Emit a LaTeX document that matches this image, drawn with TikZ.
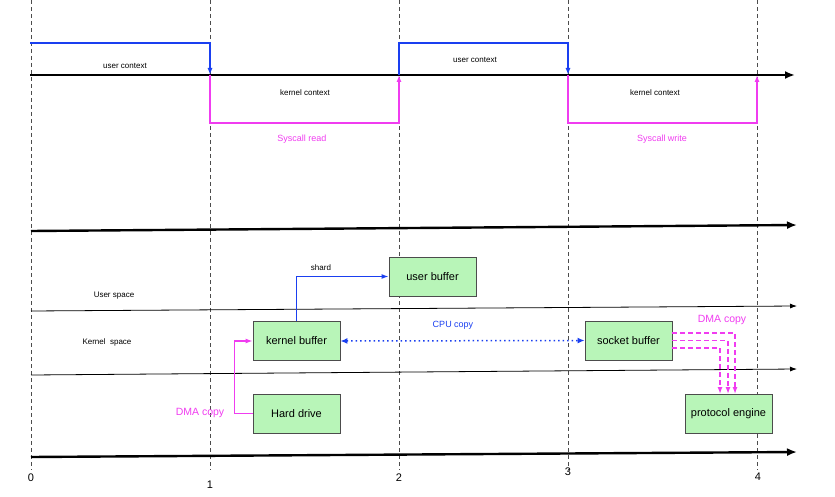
\documentclass[tikz,border=0pt]{standalone}
\usepackage{fontspec}
\setmainfont{Liberation Sans}
\usetikzlibrary{arrows.meta}
\definecolor{boxgreen}{HTML}{B8F5B8}
\definecolor{ublue}{HTML}{1A3FF0}
\definecolor{kmag}{HTML}{F03CF0}
\begin{document}
\begin{tikzpicture}[x=1pt,y=-1pt,
  guide/.style={dash pattern=on 4pt off 3pt,gray!60!black,line width=0.8pt},
  axis/.style={line width=2.4pt,-{Latex[length=10pt,width=8pt]}},
  thinaxis/.style={line width=0.8pt,-{Latex[length=7pt,width=5pt]}},
  bufbox/.style={draw=black!70,line width=0.8pt,fill=boxgreen,minimum width=87pt,minimum height=39pt,font=\fontsize{11}{13}\selectfont},
  small/.style={font=\fontsize{8}{9}\selectfont},
  userpath/.style={ublue,line width=1.3pt,-{Latex[length=7pt,width=5pt]}},
  kernpath/.style={kmag,line width=1.3pt,-{Latex[length=7pt,width=5pt]}},
  dmaline/.style={kmag,line width=1.3pt,dash pattern=on 5pt off 3pt,-{Latex[length=7pt,width=5pt]}},
  tick/.style={font=\fontsize{11}{13}\selectfont}]
\useasboundingbox (0,0) rectangle (835,497);

% time marks
\foreach \n/\x in {0/31,1/210,2/399,3/568,4/757}{
  \coordinate (t\n) at (\x,0);
  \draw[guide] (\x,0) -- (\x,470);
}
\node[tick] (n0) at (31,478) {0};
\node[tick] (n1) at (210,485) {1};
\node[tick] (n2) at (399,478) {2};
\node[tick] (n3) at (568,472) {3};
\node[tick] (n4) at (758,477) {4};

% context switch timeline
\coordinate (a0) at (30,75);
\coordinate (a1) at (795,75);
\draw[axis] (a0) -- (a1);

\coordinate (u0) at (30,43);
\coordinate (s1) at (210,75);
\coordinate (s2) at (399,75);
\coordinate (s3) at (568,75);
\coordinate (s4) at (757,75);
\draw[userpath] (u0) -| (s1);
\draw[kernpath] (s1) -- (210,123) -- (399,123) -- (s2);
\draw[userpath] (s2) -- (399,43) -- (568,43) -- (s3);
\draw[kernpath] (s3) -- (568,123) -- (757,123) -- (s4);

\node[small] (uc1) at (125,66) {user context};
\node[small] (uc2) at (475,60) {user context};
\node[small] (kc1) at (305,93) {kernel context};
\node[small] (kc2) at (655,93) {kernel context};
\node[kmag,font=\fontsize{9}{11}\selectfont] (sr) at (302,139) {Syscall read};
\node[kmag,font=\fontsize{9}{11}\selectfont] (sw) at (662,139) {Syscall write};

% second timeline
\coordinate (b0) at (31,231);
\coordinate (b1) at (797,225);
\draw[axis] (b0) -- (b1);

% space boundaries
\coordinate (l0) at (31,311);
\coordinate (l1) at (797,306);
\draw[thinaxis] (l0) -- (l1);
\coordinate (m0) at (31,375);
\coordinate (m1) at (797,369);
\draw[thinaxis] (m0) -- (m1);
\coordinate (c0) at (31,457);
\coordinate (c1) at (797,452);
\draw[axis] (c0) -- (c1);

\node[small] (us) at (114,296) {User space};
\node[small] (ks) at (107,342) {Kernel\ \ space};

% buffers
\node[bufbox] (kb) at (296.5,341) {kernel buffer};
\node[bufbox] (hd) at (296.5,413.5) {Hard drive};
\node[bufbox] (ub) at (432.5,276.5) {user buffer};
\node[bufbox] (sb) at (628.5,340.5) {socket buffer};
\node[bufbox] (pe) at (728.5,413.5) {protocol engine};

% data movement
\draw[userpath] (kb.north) |- (ub.west);
\node[small] (shard) at (321,268) {shard};

\draw[ublue,line width=1.5pt,dash pattern=on 1.5pt off 3pt,{Latex[length=7pt,width=6pt]}-{Latex[length=7pt,width=6pt]}] (kb.east) -- (sb.west);
\node[ublue,font=\fontsize{9}{11}\selectfont] (cpu) at (453,325) {CPU copy};

\draw[kernpath] (hd.west) -- ++(-18,0) |- (kb.west);
\node[kmag,font=\fontsize{10.5}{12}\selectfont] (dma1) at (200,413) {DMA copy};

\coordinate (pe1) at (735,394);
\coordinate (pe2) at (728,394);
\coordinate (pe3) at (720,394);
\draw[dmaline] ([yshift=7.5pt]sb.east) -| (pe1);
\draw[dmaline] (sb.east) -| (pe2);
\draw[dmaline] ([yshift=-7.5pt]sb.east) -| (pe3);
\node[kmag,font=\fontsize{10.5}{12}\selectfont] (dma2) at (722,320) {DMA copy};
\end{tikzpicture}
\end{document}
